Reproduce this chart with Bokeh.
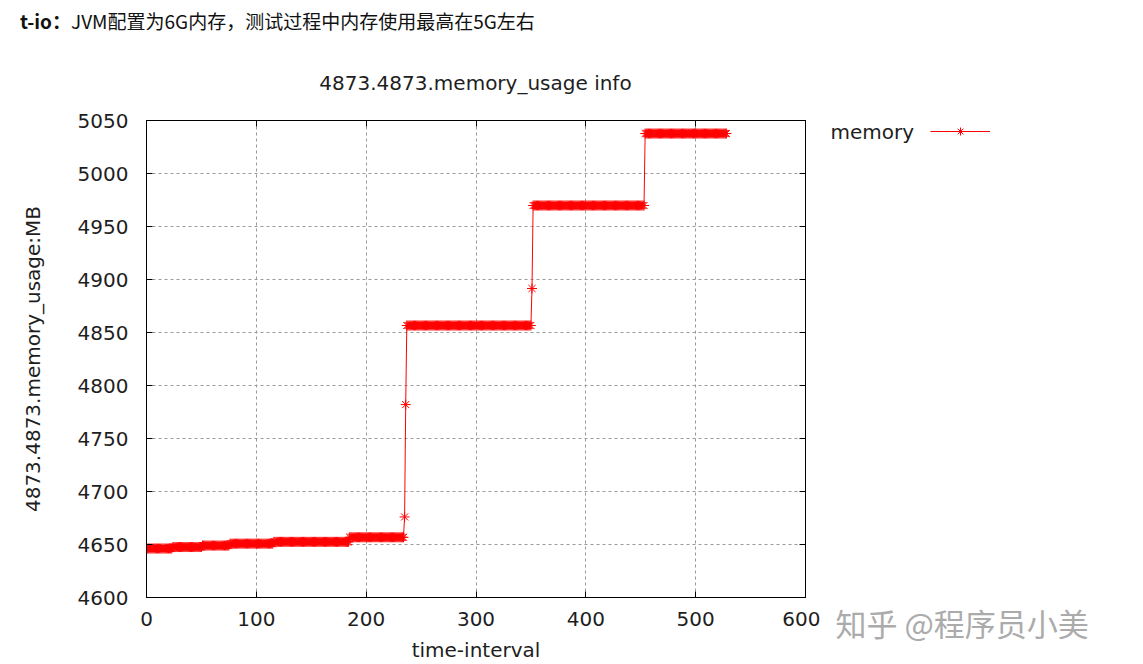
from bokeh.plotting import figure
from bokeh.layouts import column, row
from bokeh.models import (Range1d, FixedTicker, LinearAxis, Label, Legend, Title,
                          LegendItem, CustomJSTickFormatter, ColumnDataSource, Div)
from bokeh.embed import file_html
from bokeh.resources import INLINE

# ---------------- data ----------------
# runs of equal memory readings: first interval, last interval, value (MB)
run_start = [0, 24, 51, 76, 116, 185, 237, 352, 454]
run_end = [23, 50, 75, 115, 184, 234, 350, 453, 528]
run_value = [4646.2, 4647.6, 4649.0, 4650.8, 4652.5, 4656.8, 4856.6, 4969.8, 5037.7]
# single readings during the jumps
jump_x = [235, 236, 351]
jump_y = [4676.0, 4782.0, 4891.5]

x_ticks = [0, 100, 200, 300, 400, 500, 600]
y_ticks = [4600, 4650, 4700, 4750, 4800, 4850, 4900, 4950, 5000, 5050]

title_text = "4873.4873.memory_usage info"
header_bold = "t-io："
header_rest = "JVM配置为6G内存，测试过程中内存使用最高在5G左右"
series_name = "memory"
x_label = "time-interval"
y_label = "4873.4873.memory_usage:MB"
watermark = "知乎 @程序员小美"

# build the series
pts = []
for s_, e_, v_ in zip(run_start, run_end, run_value):
    for t in range(s_, e_ + 1):
        pts.append((t, v_))
pts += list(zip(jump_x, jump_y))
pts.sort()
src = ColumnDataSource(dict(x=[q[0] for q in pts], y=[q[1] for q in pts]))

# ---------------- layout (picture pixels) ----------------
TOTAL_W, TOTAL_H = 1135, 664
HEAD_H = 100                     # header strip (page note + chart title)
MAIN_W = 820                     # main chart canvas width
SIDE_W = TOTAL_W - MAIN_W        # legend / watermark canvas
ROW_H = TOTAL_H - HEAD_H
FL, FR, FT, FB = 146, 805, 120, 597   # plot frame edges
X0, X1, Y0, Y1 = 0, 600, 4600, 5050

FONT = "DejaVu Sans"
CJK = "Noto Sans CJK SC"
TXT = "#1e1e1e"
FS = "20px"
RED = "#ff0000"

# header: page note (top left) and chart title (centred over the plot frame)
header = Div(
    text=('<div style="position:relative; width:%dpx; height:%dpx;">'
          '<div style="position:absolute; left:20px; top:9px; line-height:24px; '
          'white-space:nowrap; font-family:\'Noto Sans CJK SC\'; font-size:19px; '
          'color:#111111;"><b>%s</b>%s</div>'
          '<div style="position:absolute; left:0px; width:%dpx; top:71px; '
          'line-height:24px; text-align:center; white-space:nowrap; '
          'font-family:\'DejaVu Sans\'; font-size:20px; color:%s;">%s</div>'
          '</div>') % (TOTAL_W, HEAD_H, header_bold, header_rest,
                       2 * ((FL + FR) // 2) + 1, TXT, title_text),
    width=TOTAL_W, height=HEAD_H, margin=0)

# main chart
p = figure(width=MAIN_W, height=ROW_H, output_backend="svg", toolbar_location=None,
           x_range=Range1d(X0, X1), y_range=Range1d(Y0, Y1),
           min_border_left=FL, min_border_right=MAIN_W - FR,
           min_border_top=FT - HEAD_H, min_border_bottom=TOTAL_H - FB,
           x_axis_location=None, y_axis_location=None, margin=0)
p.outline_line_color = "black"
p.border_fill_color = "white"
p.background_fill_color = "white"


def mk_axis(ticks, labels=True):
    ax = LinearAxis(ticker=FixedTicker(ticks=ticks))
    ax.major_tick_in = 6
    ax.major_tick_out = 0
    ax.minor_tick_line_color = None
    ax.axis_line_color = "black"
    ax.major_tick_line_color = "black"
    ax.major_label_text_font = FONT
    ax.major_label_text_font_size = FS
    ax.major_label_text_color = TXT
    if not labels:
        ax.formatter = CustomJSTickFormatter(code="return ''")
        ax.major_label_standoff = 0
    return ax


xb = mk_axis(x_ticks)
xb.major_label_standoff = 14
xb.axis_label = x_label
xb.axis_label_text_font = FONT
xb.axis_label_text_font_size = FS
xb.axis_label_text_font_style = "normal"
xb.axis_label_text_color = TXT
xb.axis_label_standoff = 9
p.add_layout(xb, "below")

yl = mk_axis(y_ticks)
yl.major_label_standoff = 18
yl.axis_label = y_label
yl.axis_label_text_font = FONT
yl.axis_label_text_font_size = FS
yl.axis_label_text_font_style = "normal"
yl.axis_label_text_color = TXT
yl.axis_label_standoff = 30
p.add_layout(yl, "left")

p.add_layout(mk_axis(x_ticks, labels=False), "above")
p.add_layout(mk_axis(y_ticks, labels=False), "right")

p.xgrid.ticker = FixedTicker(ticks=x_ticks)
p.ygrid.ticker = FixedTicker(ticks=y_ticks)
for g in (p.xgrid, p.ygrid):
    g.grid_line_color = "#9a9a9a"
    g.grid_line_dash = "3 3"
    g.grid_line_width = 1

p.line("x", "y", source=src, line_color=RED, line_width=1)
p.scatter("x", "y", source=src, marker="asterisk", size=10,
          line_color=RED, line_width=1)

# side canvas: legend (gnuplot style: name, then sample) and watermark.
# Its frame lines up with the main frame; its ranges are picture pixels,
# so the series' own data lie outside it and only the legend key shows.
s = figure(width=SIDE_W, height=ROW_H, output_backend="svg", toolbar_location=None,
           x_range=Range1d(MAIN_W, TOTAL_W), y_range=Range1d(FB, FT),
           min_border_left=0, min_border_right=0,
           min_border_top=FT - HEAD_H, min_border_bottom=TOTAL_H - FB,
           x_axis_location=None, y_axis_location=None, margin=0)
s.outline_line_color = None
s.xgrid.visible = False
s.ygrid.visible = False
s.background_fill_color = "white"
s.border_fill_color = "white"

k_line = s.line("x", "y", source=src, line_color=RED, line_width=1)
k_pts = s.scatter("x", "y", source=src, marker="asterisk", size=10,
                  line_color=RED, line_width=1)
leg = Legend(items=[LegendItem(label=" ", renderers=[k_line, k_pts])],
             location=(930 - MAIN_W, FB - 141), glyph_width=60, glyph_height=20,
             label_width=0, label_height=20, label_standoff=0, padding=0, margin=0,
             spacing=0, border_line_color=None, background_fill_alpha=0,
             label_text_font_size="1px")
s.add_layout(leg, "center")

s.add_layout(Label(x=830, y=131, text=series_name,
                   text_align="left", text_baseline="middle", text_font=FONT,
                   text_font_size=FS, text_color=TXT))

wm = Title(text=watermark, align="left", offset=835 - MAIN_W, standoff=0,
           text_font=CJK, text_font_size="31px", text_font_style="normal",
           text_color="#ababab")
s.add_layout(wm, "below")

layout = column(header, row(p, s, spacing=0, margin=0), spacing=0, margin=0)
open("out.html", "w").write(file_html(layout, INLINE))
